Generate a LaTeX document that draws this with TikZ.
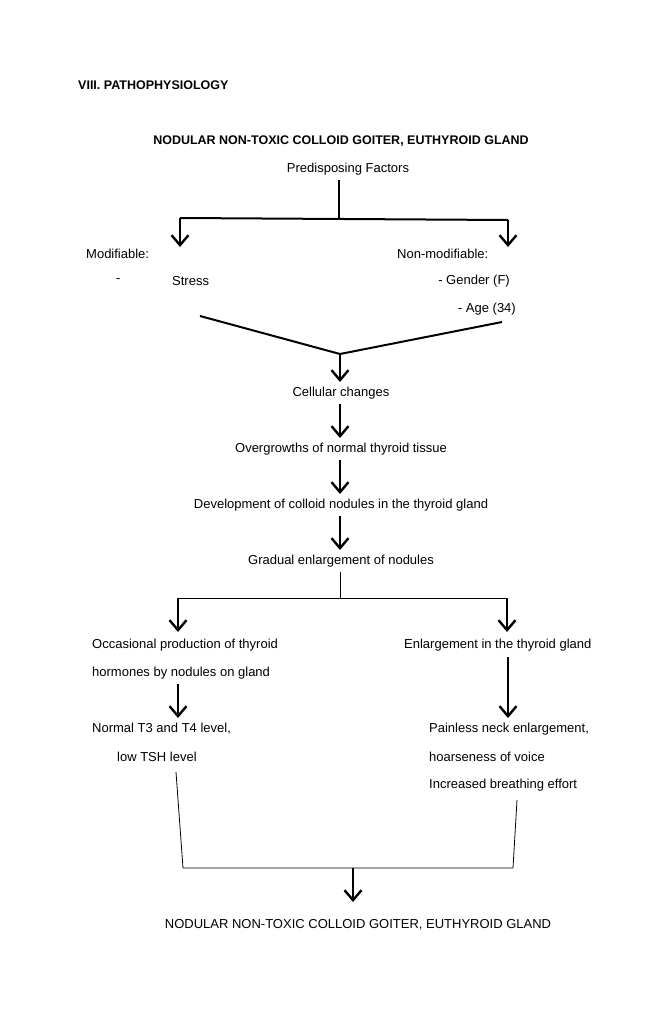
\documentclass[tikz,border=0pt]{standalone}
\usepackage{fontspec}
\setmainfont{Liberation Sans}
\usetikzlibrary{arrows.meta}
\begin{document}
\begin{tikzpicture}[x=1pt,y=-1pt,
  txt/.style={font=\fontsize{13}{15}\selectfont,inner sep=0pt},
  thk/.style={line width=2pt},
  thn/.style={line width=0.8pt},
  arr/.style={line width=2pt,-{Straight Barb[length=10pt,width=17pt,line width=2.4pt]}}]
\useasboundingbox (0,0) rectangle (663,1014);
\fill[white] (0,0) rectangle (663,1014);
\node[txt,anchor=west,font=\fontsize{12.5}{14}\selectfont\bfseries] (t1) at (78,85) {VIII. PATHOPHYSIOLOGY};
\node[txt,font=\fontsize{12.5}{14}\selectfont\bfseries] (t2) at (341,141) {NODULAR NON-TOXIC COLLOID GOITER, EUTHYROID GLAND};
\node[txt] (pf) at (348,169) {Predisposing Factors};
\coordinate (s1) at (339,180);
\coordinate (j1) at (339,218);
\coordinate (l1) at (180,218);
\coordinate (r1) at (508,220);
\coordinate (la) at (180,247);
\coordinate (ra) at (508,247);
\draw[thk] (s1) -- (j1);
\draw[thk] (l1) -- (r1);
\draw[arr] (l1) -- (la);
\draw[arr] (r1) -- (ra);
\node[txt,anchor=west] (mod) at (86,254) {Modifiable:};
\node[txt,anchor=west] (nmod) at (397,254) {Non-modifiable:};
\node[txt,anchor=west] (dash) at (116,281) {-};
\node[txt,anchor=west] (stress) at (172,281) {Stress};
\node[txt,anchor=east] (gen) at (510,281) {- Gender (F)};
\node[txt,anchor=east] (age) at (516,309) {- Age (34)};
\coordinate (v1) at (200,316);
\coordinate (v2) at (502,322);
\coordinate (vj) at (340,354);
\coordinate (va) at (340,382);
\draw[thk] (v1) -- (vj) -- (v2);
\draw[arr] (vj) -- (va);
\node[txt] (cc) at (341,393) {Cellular changes};
\node[txt] (og) at (341,449) {Overgrowths of normal thyroid tissue};
\node[txt] (dev) at (341,505) {Development of colloid nodules in the thyroid gland};
\node[txt] (gr) at (341,561) {Gradual enlargement of nodules};
\draw[arr] (340,404) -- (340,438);
\draw[arr] (340,460) -- (340,494);
\draw[arr] (340,516) -- (340,550);
\coordinate (g1) at (340,572);
\coordinate (g2) at (340,598);
\coordinate (gl) at (178,598);
\coordinate (gr2) at (507,598);
\draw[thn] (g1) -- (g2);
\draw[thn] (gl) -- (gr2);
\draw[arr] (gl) -- (178,632);
\draw[arr] (gr2) -- (507,632);
\node[txt,anchor=west] (oc1) at (92,645) {Occasional production of thyroid};
\node[txt,anchor=west] (oc2) at (92,673) {hormones by nodules on gland};
\draw[arr] (178,684) -- (178,718);
\node[txt,anchor=west] (n1) at (92,729) {Normal T3 and T4 level,};
\node[txt,anchor=west] (n2) at (117,757) {low TSH level};
\node[txt,anchor=west] (en) at (404,645) {Enlargement in the thyroid gland};
\draw[arr] (508,657) -- (508,718);
\node[txt,anchor=west] (p1) at (429,729) {Painless neck enlargement,};
\node[txt,anchor=west] (p2) at (429,757) {hoarseness of voice};
\node[txt,anchor=west] (p3) at (429,785) {Increased breathing effort};
\coordinate (b1) at (176,772);
\coordinate (b2) at (183,868);
\coordinate (b3) at (513,868);
\coordinate (b4) at (517,800);
\draw[thn] (b1) -- (b2) -- (b3) -- (b4);
\draw[arr] (353,868) -- (353,902);
\node[txt] (fin) at (358,925) {NODULAR NON-TOXIC COLLOID GOITER, EUTHYROID GLAND};
\end{tikzpicture}
\end{document}
